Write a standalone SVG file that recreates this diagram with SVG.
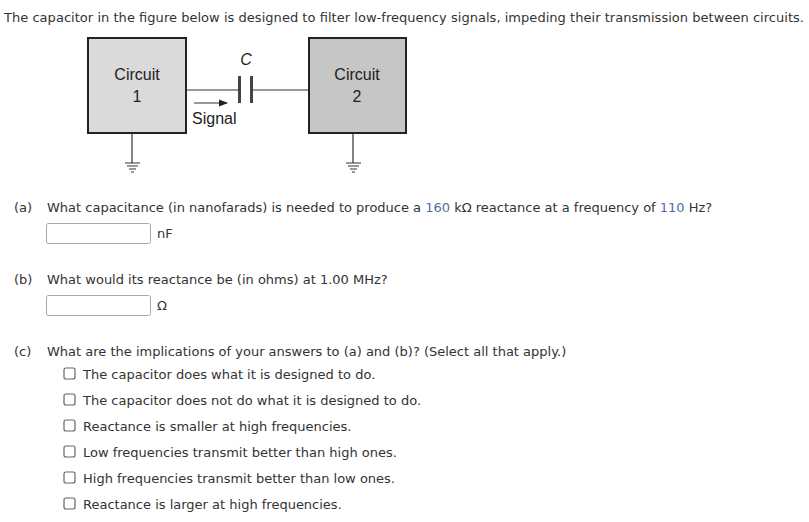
<svg xmlns="http://www.w3.org/2000/svg" width="809" height="522" viewBox="0 0 809 522">
<style>
.t{font-family:"DejaVu Sans",Verdana,sans-serif;font-size:13px;fill:#333}
.b{fill:#4a6fa5}
.c{font-family:"Liberation Sans",Arial,sans-serif;font-size:16px;fill:#222}
.w{stroke:#333;stroke-width:1.2;fill:none}
.in{fill:#fff;stroke:#aaa;stroke-width:1}
.cb{fill:#fff;stroke:#666;stroke-width:1.2}
</style>
<defs><marker id="ar" markerWidth="8" markerHeight="6" refX="7" refY="3" orient="auto"><path d="M0,0L8,3L0,6z" fill="#222"/></marker></defs>
<rect width="809" height="522" fill="#fff"/>
<text class="t" x="4" y="22" textLength="800">The capacitor in the figure below is designed to filter low-frequency signals, impeding their transmission between circuits.</text>
<g id="circuit1">
<rect x="88" y="38" width="98" height="95" fill="#dadada" stroke="#222" stroke-width="2"/>
<text class="c" x="137" y="80" text-anchor="middle">Circuit</text>
<text class="c" x="137" y="102" text-anchor="middle">1</text>
</g>
<g id="circuit2">
<rect x="309" y="38" width="97" height="95" fill="#c6c6c6" stroke="#222" stroke-width="2"/>
<text class="c" x="357" y="80" text-anchor="middle">Circuit</text>
<text class="c" x="357" y="102" text-anchor="middle">2</text>
</g>
<g id="capacitor">
<rect x="238" y="76" width="3" height="27" fill="#444"/>
<rect x="250" y="76" width="3" height="27" fill="#444"/>
<text class="c" x="246" y="65" text-anchor="middle" font-style="italic" font-size="15">C</text>
</g>
<g id="ground1" class="w"><path d="M132,134V163M125,163H140M127,166H138M129,169H136M131,172H134"/></g>
<g id="ground2" class="w"><path d="M353,134V163M346,163H361M348,166H359M350,169H357M352,172H355"/></g>
<g id="connectors" class="w">
<path d="M186,90H238M253,90H309"/>
<path d="M194,103H227" marker-end="url(#ar)"/>
</g>
<text class="c" x="192" y="124">Signal</text>
<text class="t" x="14" y="212">(a)</text>
<text class="t" x="47" y="212">What capacitance (in nanofarads) is needed to produce a <tspan class="b">160</tspan> kΩ reactance at a frequency of <tspan class="b">110</tspan> Hz?</text>
<rect class="in" x="46.5" y="223.5" width="104" height="20" rx="2"/>
<text class="t" x="157" y="238">nF</text>
<text class="t" x="14" y="284">(b)</text>
<text class="t" x="47" y="284">What would its reactance be (in ohms) at 1.00 MHz?</text>
<rect class="in" x="46.5" y="295.5" width="104" height="20" rx="2"/>
<text class="t" x="157" y="310">Ω</text>
<text class="t" x="14" y="356">(c)</text>
<text class="t" x="47" y="356">What are the implications of your answers to (a) and (b)? (Select all that apply.)</text>
<g>
<rect class="cb" x="64" y="368" width="11" height="11" rx="2"/><text class="t" x="83" y="379">The capacitor does what it is designed to do.</text>
<rect class="cb" x="64" y="394" width="11" height="11" rx="2"/><text class="t" x="83" y="405">The capacitor does not do what it is designed to do.</text>
<rect class="cb" x="64" y="420" width="11" height="11" rx="2"/><text class="t" x="83" y="431">Reactance is smaller at high frequencies.</text>
<rect class="cb" x="64" y="446" width="11" height="11" rx="2"/><text class="t" x="83" y="457">Low frequencies transmit better than high ones.</text>
<rect class="cb" x="64" y="472" width="11" height="11" rx="2"/><text class="t" x="83" y="483">High frequencies transmit better than low ones.</text>
<rect class="cb" x="64" y="498" width="11" height="11" rx="2"/><text class="t" x="83" y="509">Reactance is larger at high frequencies.</text>
</g>
</svg>
